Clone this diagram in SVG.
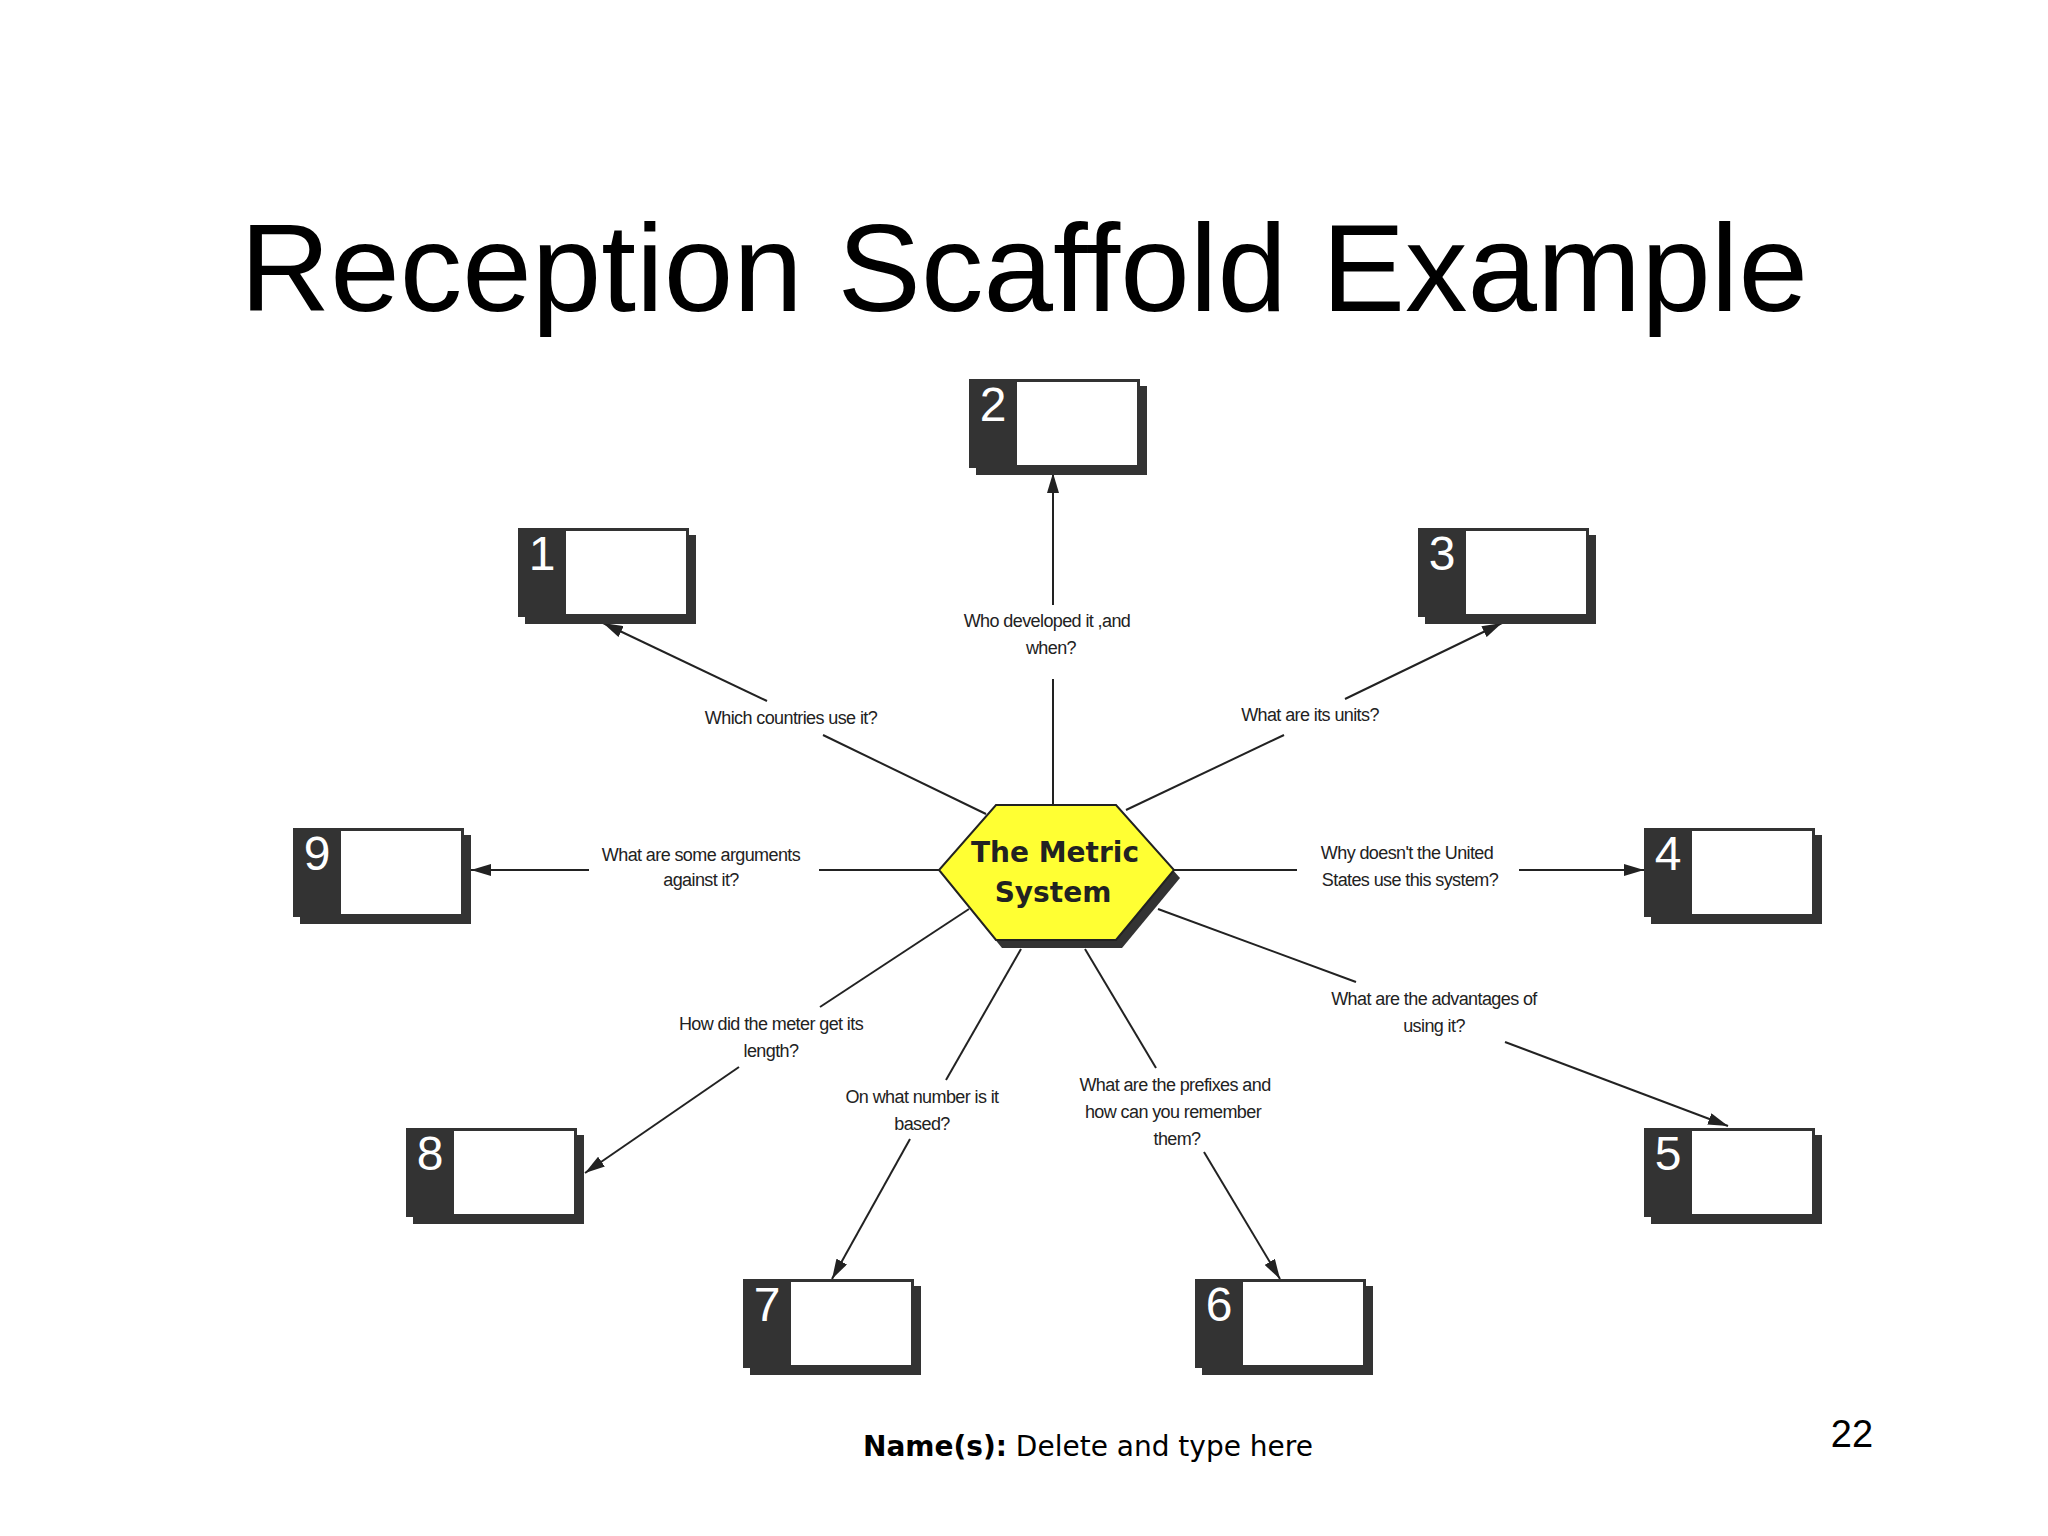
<svg xmlns="http://www.w3.org/2000/svg" width="2048" height="1536" viewBox="0 0 2048 1536">
<style>
.lbl{font-family:"Liberation Sans",Arial,sans-serif;font-size:18px;fill:#222;text-anchor:middle;letter-spacing:-0.6px}
.num{font-family:"Liberation Sans",Arial,sans-serif;font-size:48px;fill:#fff;text-anchor:middle}
.ln{stroke:#222;stroke-width:2;fill:none}
.arr{marker-end:url(#ah)}
</style>
<defs>
<marker id="ah" viewBox="0 0 20 12" refX="20" refY="6" markerWidth="20" markerHeight="12" markerUnits="userSpaceOnUse" orient="auto">
<path d="M0,0 L20,6 L0,12 Z" fill="#222"/>
</marker>
<g id="box">
<rect x="7" y="7" width="171" height="89" fill="#333"/>
<rect x="0" y="0" width="171" height="89" fill="#333"/>
<rect x="48" y="3" width="120" height="83" fill="#fff"/>
</g>
</defs>
<rect width="2048" height="1536" fill="#fff"/>
<text x="1024" y="311" font-family="Liberation Sans,Arial,sans-serif" font-size="125" text-anchor="middle" fill="#000">Reception Scaffold Example</text>

<g id="connectors">
<line class="ln" x1="1053" y1="804" x2="1053" y2="679"/>
<line class="ln arr" x1="1053" y1="605" x2="1053" y2="473"/>
<line class="ln" x1="986" y1="814" x2="823" y2="735"/>
<line class="ln arr" x1="767" y1="701" x2="603" y2="623"/>
<line class="ln" x1="1126" y1="810" x2="1284" y2="735"/>
<line class="ln arr" x1="1345" y1="699" x2="1502" y2="623"/>
<line class="ln" x1="939" y1="870" x2="819" y2="870"/>
<line class="ln arr" x1="589" y1="870" x2="471" y2="870"/>
<line class="ln" x1="1174" y1="870" x2="1297" y2="870"/>
<line class="ln arr" x1="1519" y1="870" x2="1644" y2="870"/>
<line class="ln" x1="1158" y1="909" x2="1356" y2="982"/>
<line class="ln arr" x1="1505" y1="1042" x2="1728" y2="1126"/>
<line class="ln" x1="1085" y1="949" x2="1156" y2="1068"/>
<line class="ln arr" x1="1204" y1="1152" x2="1280" y2="1279"/>
<line class="ln" x1="1021" y1="949" x2="946" y2="1080"/>
<line class="ln arr" x1="910" y1="1139" x2="832" y2="1279"/>
<line class="ln" x1="969" y1="909" x2="820" y2="1007"/>
<line class="ln arr" x1="739" y1="1067" x2="585" y2="1173"/>
</g>

<g id="labels">
<text class="lbl" x="1047" y="627">Who developed it ,and</text>
<text class="lbl" x="1051" y="654">when?</text>
<text class="lbl" x="791" y="724">Which countries use it?</text>
<text class="lbl" x="1310" y="721">What are its units?</text>
<text class="lbl" x="701" y="861">What are some arguments</text>
<text class="lbl" x="701" y="886">against it?</text>
<text class="lbl" x="1407" y="859">Why doesn't the United</text>
<text class="lbl" x="1410" y="886">States use this system?</text>
<text class="lbl" x="1434" y="1005">What are the advantages of</text>
<text class="lbl" x="1434" y="1032">using it?</text>
<text class="lbl" x="1175" y="1091">What are the prefixes and</text>
<text class="lbl" x="1173" y="1118">how can you remember</text>
<text class="lbl" x="1177" y="1145">them?</text>
<text class="lbl" x="922" y="1103">On what number is it</text>
<text class="lbl" x="922" y="1130">based?</text>
<text class="lbl" x="771" y="1030">How did the meter get its</text>
<text class="lbl" x="771" y="1057">length?</text>
</g>

<g id="hub">
<polygon points="1002,813 1122,813 1180,878 1122,948 1002,948 945,878" fill="#333"/>
<polygon points="996,805 1116,805 1174,870 1116,940 996,940 939,870" fill="#ffff33" stroke="#222" stroke-width="2"/>
<text x="1055" y="862" font-family="DejaVu Sans,sans-serif" font-weight="bold" font-size="28" text-anchor="middle" fill="#222">The Metric</text>
<text x="1053" y="902" font-family="DejaVu Sans,sans-serif" font-weight="bold" font-size="28" text-anchor="middle" fill="#222">System</text>
</g>

<g id="n1"><use href="#box" x="518" y="528"/><text class="num" x="542" y="570">1</text></g>
<g id="n2"><use href="#box" x="969" y="379"/><text class="num" x="993" y="421">2</text></g>
<g id="n3"><use href="#box" x="1418" y="528"/><text class="num" x="1442" y="570">3</text></g>
<g id="n4"><use href="#box" x="1644" y="828"/><text class="num" x="1668" y="870">4</text></g>
<g id="n5"><use href="#box" x="1644" y="1128"/><text class="num" x="1668" y="1170">5</text></g>
<g id="n6"><use href="#box" x="1195" y="1279"/><text class="num" x="1219" y="1321">6</text></g>
<g id="n7"><use href="#box" x="743" y="1279"/><text class="num" x="767" y="1321">7</text></g>
<g id="n8"><use href="#box" x="406" y="1128"/><text class="num" x="430" y="1170">8</text></g>
<g id="n9"><use href="#box" x="293" y="828"/><text class="num" x="317" y="870">9</text></g>

<text x="863" y="1456" font-family="DejaVu Sans,sans-serif" font-size="28" fill="#000"><tspan font-weight="bold">Name(s):</tspan> Delete and type here</text>
<text x="1852" y="1447" font-family="Liberation Sans,Arial,sans-serif" font-size="38" text-anchor="middle" fill="#000">22</text>
</svg>
